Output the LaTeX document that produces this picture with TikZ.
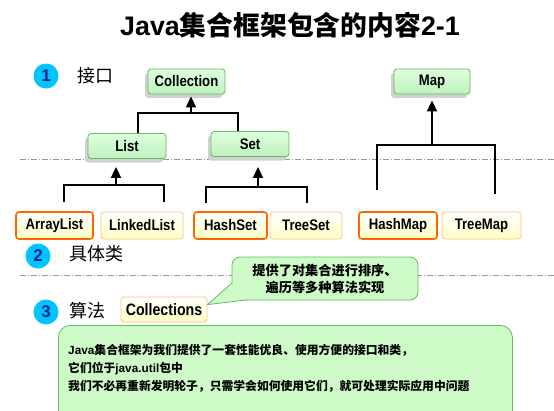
\documentclass[tikz,border=0pt]{standalone}
\usepackage{fontspec}
\setmainfont{Liberation Sans}
\newfontfamily\cjk{Noto Sans CJK SC}
\newfontfamily\boxfont{Liberation Sans}[FakeStretch=0.86]
\usetikzlibrary{arrows.meta,calc,shadows}
\definecolor{gtop}{RGB}{222,255,222}
\definecolor{gbot}{RGB}{190,242,190}
\definecolor{gdraw}{RGB}{100,185,100}
\definecolor{cfill}{RGB}{206,250,200}
\definecolor{ofill}{RGB}{255,255,196}
\definecolor{othick}{RGB}{255,102,0}
\definecolor{othin}{RGB}{255,190,140}
\definecolor{cyanc}{RGB}{0,196,255}
\definecolor{numc}{RGB}{0,40,150}
\definecolor{dashc}{RGB}{150,150,150}
\tikzset{
  ifbox/.style={draw=gdraw, line width=0.8pt, rounded corners=3pt,
    top color=gtop, bottom color=gbot, inner sep=0pt, minimum height=25pt,
    font=\boxfont\bfseries\fontsize{15.3}{17}\selectfont,
    drop shadow={shadow xshift=-3pt, shadow yshift=-4pt, fill=black!18, opacity=1}},
  implbox/.style={rounded corners=3pt, top color=white, bottom color=ofill,
    inner sep=0pt, minimum height=27pt, font=\boxfont\bfseries\fontsize{15.3}{17}\selectfont},
  mainimpl/.style={implbox, draw=othick, line width=1.6pt},
  altimpl/.style={implbox, draw=othin, line width=0.8pt},
  conn/.style={line width=1.8pt, black},
  arr/.style={conn, -{Triangle[length=11pt,width=10pt]}},
  sepline/.style={dashc, line width=0.7pt, dash pattern=on 6pt off 2pt on 1pt off 2pt},
  num/.style={circle, fill=cyanc, minimum size=25pt, inner sep=0pt, text=numc,
    font=\bfseries\fontsize{17}{17}\selectfont},
  sec/.style={anchor=west, font=\cjk\fontsize{18}{18}\selectfont},
  greenbox/.style={draw=gdraw, line width=0.8pt, fill=cfill},
}
\begin{document}
\begin{tikzpicture}[x=1pt,y=-1pt]
\useasboundingbox (0,0) rectangle (554,410);
\clip (0,0) rectangle (554,410);
\fill[white] (0,0) rectangle (554,410);

% separators
\coordinate (s1a) at (20,159); \coordinate (s1b) at (554,159);
\coordinate (s2a) at (20,275); \coordinate (s2b) at (554,275);
\draw[sepline] (s1a) -- (s1b);
\draw[sepline] (s2a) -- (s2b);

% title
\node[font=\bfseries\fontsize{26.8}{27}\selectfont] (title) at (290,25) {Java{\cjk 集合框架包含的内容}2-1};

% section labels
\node[num] (n1) at (46,76) {1};
\node[sec] (l1) at (74,76) {接口};
\node[num] (n2) at (38,256) {2};
\node[sec] (l2) at (66,254) {具体类};
\node[num] (n3) at (46,312) {3};
\node[sec] (l3) at (66,311) {算法};

% interfaces
\node[ifbox, minimum width=77pt] (Collection) at (186.5,81.5) {Collection};
\node[ifbox, minimum width=76pt] (Map) at (432,81.5) {Map};
\node[ifbox, minimum width=78pt] (List) at (127,146) {List};
\node[ifbox, minimum width=78pt] (Set) at (250,144) {Set};

% implementations
\node[mainimpl, minimum width=77pt] (ArrayList) at (54.5,225.5) {ArrayList};
\node[altimpl, minimum width=82pt] (LinkedList) at (142,225.5) {LinkedList};
\node[mainimpl, minimum width=73pt] (HashSet) at (230.5,225.5) {HashSet};
\node[altimpl, minimum width=72pt] (TreeSet) at (306,225.5) {TreeSet};
\node[mainimpl, minimum width=78pt] (HashMap) at (398,225.5) {HashMap};
\node[altimpl, minimum width=79pt] (TreeMap) at (481.5,225.5) {TreeMap};

% Collection tree
\coordinate (cj) at (191,113);
\coordinate (cl) at (138,113);
\coordinate (cr) at (238,113);
\draw[conn] (cl |- List.north) -- (cl) -- (cr) -- (cr |- Set.north);
\draw[arr, shorten >=2pt] (cj) -- (cj |- Collection.south);

% List tree
\coordinate (lj) at (116,185);
\coordinate (ll) at (64,185);
\coordinate (lr) at (164,185);
\coordinate (lle) at (64,202);
\coordinate (lre) at (164,202);
\draw[conn] (lle) -- (ll) -- (lr) -- (lre);
\draw[arr, shorten >=8pt] (lj) -- (lj |- List.south);

% Set tree
\coordinate (sj) at (258,187);
\coordinate (sl) at (206,187);
\coordinate (sr) at (307,187);
\coordinate (sle) at (206,203);
\coordinate (sre) at (307,203);
\draw[conn] (sle) -- (sl) -- (sr) -- (sre);
\draw[arr, shorten >=10pt] (sj) -- (sj |- Set.south);

% Map tree
\coordinate (mj) at (432,145);
\coordinate (ml) at (377,145);
\coordinate (mr) at (495,145);
\coordinate (mle) at (377,190);
\coordinate (mre) at (495,194);
\draw[conn] (mle) -- (ml) -- (mr) -- (mre);
\draw[arr, shorten >=6pt] (mj) -- (mj |- Map.south);

% algorithms
\node[altimpl, minimum width=86pt, minimum height=25pt, font=\boxfont\bfseries\fontsize{16.5}{17}\selectfont] (Collections) at (164,309.5) {Collections};

% callout
\node[greenbox, rounded corners=8pt, minimum width=186pt, minimum height=43pt, align=center,
      font=\cjk\bfseries\fontsize{13.2}{17}\selectfont] (tip) at (325,278.5)
      {提供了对集合进行排序、\\遍历等多种算法实现};
\coordinate (ta) at (232,283);
\coordinate (tb) at (246,300);
\coordinate (tt) at ($(Collections.north east)+(0,8)$);
\fill[cfill] (ta) -- (tt) -- (tb) -- cycle;
\draw[gdraw, line width=0.8pt] (ta) -- (tt) -- (tb);

% description
\node[greenbox, rounded corners=12pt, anchor=north west, minimum width=454pt, minimum height=110pt] (desc) at (58,325) {};
\node[anchor=west, align=left, inner sep=0pt, font=\bfseries\fontsize{11.8}{18}\selectfont] (desctext) at (68,368)
  {Java{\cjk 集合框架为我们提供了一套性能优良、使用方便的接口和类，}\\
   {\cjk 它们位于}java.util{\cjk 包中}\\
   {\cjk 我们不必再重新发明轮子，只需学会如何使用它们，就可处理实际应用中问题}};
\end{tikzpicture}
\end{document}
